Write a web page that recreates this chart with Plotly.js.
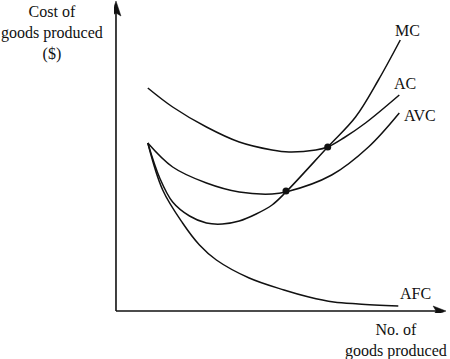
<!DOCTYPE html>
<html>
<head>
<meta charset="utf-8">
<script src="https://cdn.plot.ly/plotly-3.0.1.min.js"></script>
<style>html,body{margin:0;padding:0;background:#fff;}#chart{width:450px;height:359px;}</style>
</head>
<body>
<div id="chart"></div>
<script>
// Quantity (x) and cost (y) readings for each curve
const acX  = [32, 57, 91, 124, 157, 174, 201, 213, 229, 251, 285];
const acY  = [223, 204, 184, 169, 161, 159, 161, 164, 173, 188, 216];
const mcX  = [32, 44, 57, 74, 91, 107, 124, 141, 157, 171, 213, 241, 264, 286];
const mcY  = [168, 133, 109, 95, 88, 87, 90, 97, 106, 119, 164, 194, 231, 271];
const avcX = [32, 57, 91, 124, 157, 171, 217, 254, 285];
const avcY = [168, 144, 128, 119, 117, 119, 136, 164, 198];
const afcX = [32, 47, 67, 84, 101, 134, 169, 194, 219, 244, 284];
const afcY = [168, 121, 88, 66, 51, 33, 21, 14, 9, 7, 5];
const dotX = [171, 213];
const dotY = [120, 164];

const curveNames = ["MC", "AC", "AVC", "AFC"];
const labelX = [293, 291, 306, 301];
const labelY = [281, 228, 196, 18];

const yTitle = "Cost of<br>goods produced<br>($)";
const xTitle = "No. of<br>goods produced";

const lineStyle = {color: "#111", width: 1.5, shape: "spline", smoothing: 1};
const traces = [
  {x: acX, y: acY, mode: "lines", line: lineStyle, hoverinfo: "skip"},
  {x: mcX, y: mcY, mode: "lines", line: lineStyle, hoverinfo: "skip"},
  {x: avcX, y: avcY, mode: "lines", line: lineStyle, hoverinfo: "skip"},
  {x: afcX, y: afcY, mode: "lines", line: lineStyle, hoverinfo: "skip"},
  {x: dotX, y: dotY, mode: "markers", marker: {color: "#111", size: 7}, hoverinfo: "skip"}
];

const font = {family: "Liberation Serif, Times New Roman, serif", size: 16, color: "#111"};
const annotations = curveNames.map((n, i) => ({
  x: labelX[i], y: labelY[i], xref: "x", yref: "y", text: n, showarrow: false,
  xanchor: "center", yanchor: "middle", font: font
}));
annotations.push({x: -0.1856, y: 0.8946, xref: "paper", yref: "paper", text: yTitle, showarrow: false,
  xanchor: "center", yanchor: "middle", align: "center", font: font});
annotations.push({x: 0.8443, y: -0.0863, xref: "paper", yref: "paper", text: xTitle, showarrow: false,
  xanchor: "center", yanchor: "middle", align: "center", font: font});

const shapes = [
  {type: "line", xref: "x", yref: "y", x0: 0, y0: 0, x1: 0, y1: 300, line: {color: "#111", width: 1.6}},
  {type: "line", xref: "x", yref: "y", x0: 0, y0: 0, x1: 324, y1: 0, line: {color: "#111", width: 1.6}},
  {type: "path", xref: "x", yref: "y", path: "M -5,295 L 0,310 L 5,295 L 0,298 Z",
   fillcolor: "#111", line: {color: "#111", width: 0.5}},
  {type: "path", xref: "x", yref: "y", path: "M 319,-5 L 332,0 L 319,5 L 322,0 Z",
   fillcolor: "#111", line: {color: "#111", width: 0.5}}
];

const layout = {
  width: 450, height: 359,
  margin: {l: 114, r: 2, t: 0, b: 46, pad: 0},
  paper_bgcolor: "#fff", plot_bgcolor: "#fff",
  showlegend: false,
  xaxis: {range: [-2, 334], visible: false, fixedrange: true},
  yaxis: {range: [-2, 311], visible: false, fixedrange: true},
  annotations: annotations,
  shapes: shapes
};

Plotly.newPlot("chart", traces, layout, {staticPlot: true, displayModeBar: false});
</script>
</body>
</html>
